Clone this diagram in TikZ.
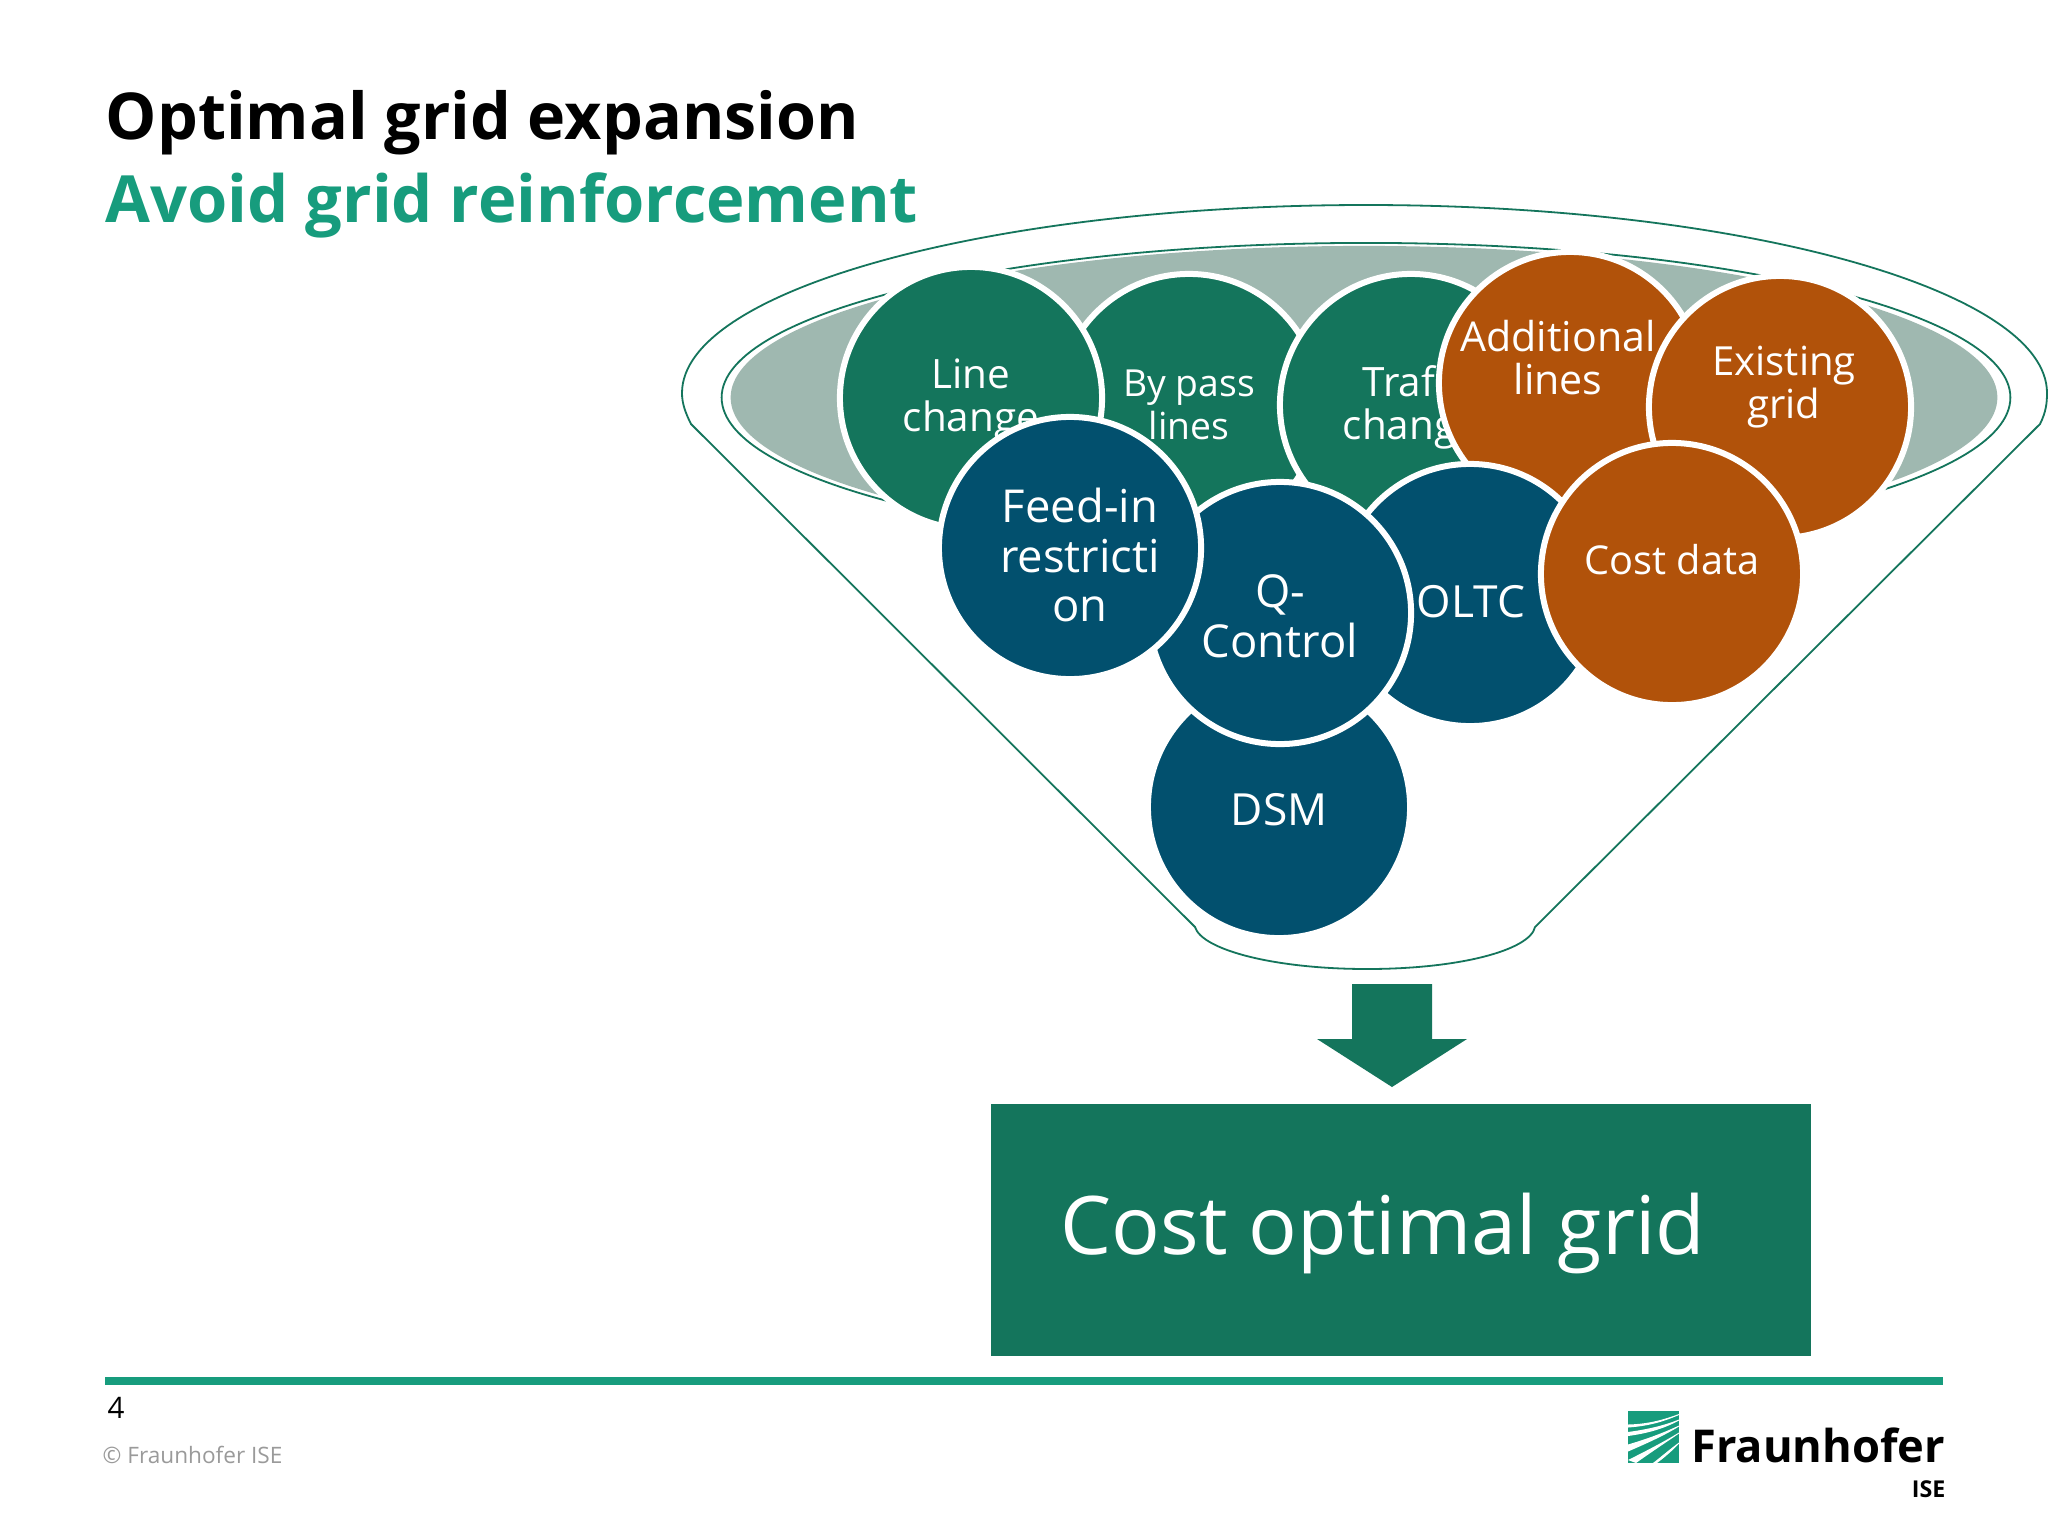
\documentclass[tikz,border=0pt]{standalone}
\usepackage{fontspec}
\setmainfont{Open Sans}
\usetikzlibrary{shapes.geometric}
\definecolor{fgreen}{HTML}{14755C}
\definecolor{tgreen}{HTML}{179C7D}
\definecolor{fblue}{HTML}{02506E}
\definecolor{forange}{HTML}{B1520A}
\definecolor{fgray}{HTML}{9FB8B0}
\definecolor{cgray}{HTML}{9A9A9A}
\tikzset{
  ball/.style={circle,draw=white,line width=0.06cm,inner sep=0,minimum size=2.62cm},
  gball/.style={ball,fill=fgreen},
  bball/.style={ball,fill=fblue},
  oball/.style={ball,fill=forange},
  smalltxt/.style={text=white,align=center,inner sep=0,font=\fontsize{10.6}{12.4}\selectfont},
  midtxt/.style={text=white,align=center,inner sep=0,font=\fontsize{11.5}{12.2}\selectfont},
  bigtxt/.style={text=white,align=center,inner sep=0,font=\fontsize{12.6}{14.2}\selectfont},
  hugetxt/.style={text=white,align=center,inner sep=0,font=\fontsize{12.9}{14.1}\selectfont},
  funnelline/.style={draw=fgreen,line width=0.018cm},
  titletxt/.style={anchor=base west,inner sep=0,font=\bfseries\fontsize{18.5}{22}\selectfont},
}
\begin{document}
\begin{tikzpicture}[x=0.01cm,y=-0.01cm]
\useasboundingbox (0,0) rectangle (2048,1536);
\fill[white] (0,0) rectangle (2048,1536);
% titles
\node[titletxt,text=black,font=\bfseries\fontsize{18.37}{22}\selectfont] (title1) at (105,139) {Optimal grid expansion};
\node[titletxt,text=tgreen] (title2) at (105,222) {Avoid grid reinforcement};
% funnel
\draw[funnelline,fill=white] (691,424) .. controls (685,412) and (682,403) .. (682,393)
  .. controls (682,290) and (990,205) .. (1366,205)
  .. controls (1742,205) and (2047,290) .. (2047,393)
  .. controls (2047,403) and (2046,412) .. (2040,424)
  -- (1535,927) .. controls (1530,950) and (1460,969) .. (1367,969)
  .. controls (1275,969) and (1202,950) .. (1195,927) -- cycle;
\node[ellipse,funnelline,fill=white,inner sep=0,minimum width=12.88cm,minimum height=3.09cm] (rim) at (1366,397.5) {};
\node[ellipse,fill=fgray,inner sep=0,minimum width=12.66cm,minimum height=3.03cm] (rimfill) at (1364,397.5) {};
% balls
\node[gball] (bypass) at (1189,405) {};
\node[smalltxt] (bypasst) at (1189,405) {By pass\\lines};
\node[gball] (lineb) at (971,398) {};
\node[midtxt] (linet) at (971,400) {Line\\change};
\node[gball] (trafo) at (1411,405) {};
\node[midtxt] (trafot) at (1411,407) {Trafo\\change};
\node[oball] (addl) at (1570,383) {};
\node[midtxt,font=\fontsize{11.7}{12.2}\selectfont] (addlt) at (1558,358) {Additional\\lines};
\node[oball] (exist) at (1780,407) {};
\node[midtxt,font=\fontsize{11.4}{12}\selectfont] (existt) at (1784,387) {Existing\\grid};
\node[bball] (dsm) at (1279,807) {};
\node[bigtxt] (dsmt) at (1279,810) {DSM};
\node[bball] (oltc) at (1470,595) {};
\node[bigtxt] (oltct) at (1471,602) {OLTC};
\node[bball] (qctl) at (1280,613) {};
\node[hugetxt] (qctlt) at (1280,616) {Q-\\Control};
\node[bball] (feed) at (1070,548) {};
\node[hugetxt] (feedt) at (1080,555) {Feed-in\\restricti\\on};
\node[oball] (cost) at (1672,574) {};
\node[midtxt,font=\fontsize{11.3}{12}\selectfont] (costt) at (1672,560) {Cost data};
% arrow
\fill[fgreen] (1352,984) -- (1432,984) -- (1432,1039) -- (1467,1039) -- (1392,1087) -- (1317,1039) -- (1352,1039) -- cycle;
% result box
\fill[fgreen] (991,1104) rectangle (1811,1356);
\node[anchor=base west,inner sep=0,text=white,font=\fontsize{23}{28}\selectfont] (result) at (1060,1254) {Cost optimal grid};
% footer
\fill[tgreen] (105,1377) rectangle (1943,1385);
\node[anchor=base west,inner sep=0,font=\fontsize{8.4}{10}\selectfont] (page) at (107,1418) {4};
\node[anchor=base west,inner sep=0,text=cgray,font=\fontsize{6.43}{8}\selectfont] (copy) at (102,1463) {© Fraunhofer ISE};
% logo
\fill[tgreen] (1628,1411) rectangle (1679,1463);
\begin{scope}
\clip (1628,1411) rectangle (1679,1463);
\fill[white] (1628,1424.5) .. controls (1650,1424) and (1665,1419) .. (1679,1414) -- (1679,1415) .. controls (1665,1421) and (1650,1426) .. (1628,1427.5) -- cycle;
\fill[white] (1628,1432) .. controls (1650,1429) and (1665,1425) .. (1679,1419.5) -- (1679,1420.5) .. controls (1665,1428) and (1650,1433) .. (1628,1436) -- cycle;
\fill[white] (1628,1444.5) .. controls (1650,1438) and (1665,1432) .. (1679,1425.5) -- (1679,1426.5) .. controls (1665,1435) and (1650,1442) .. (1628,1451.5) -- cycle;
\fill[white] (1628,1460) .. controls (1650,1449) and (1665,1441) .. (1679,1432.5) -- (1679,1433.5) .. controls (1665,1443) and (1650,1453) .. (1636,1463) -- cycle;
\fill[white] (1653,1463) .. controls (1662,1456) and (1670,1449) .. (1679,1442.5) -- (1679,1443.5) .. controls (1672,1451) and (1665,1457) .. (1657,1463) -- cycle;
\end{scope}
\node[anchor=base east,inner sep=0,text=black,font=\bfseries\fontsize{12.87}{15}\selectfont] (fh) at (1946,1462) {Fraunhofer};
\node[anchor=base east,inner sep=0,text=black,font=\bfseries\fontsize{6.6}{8}\selectfont] (ise) at (1946,1497) {ISE};
\end{tikzpicture}
\end{document}
